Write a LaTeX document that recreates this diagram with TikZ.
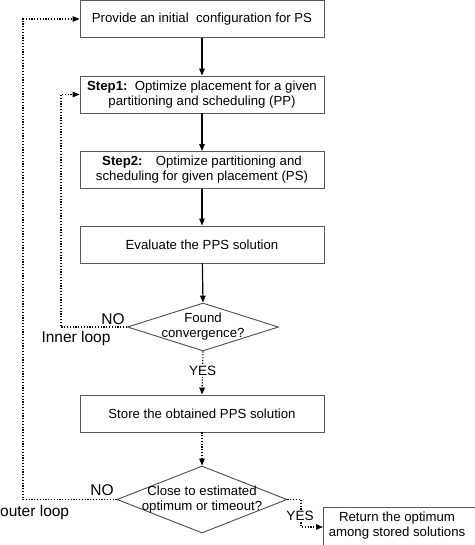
\documentclass[tikz,border=0pt]{standalone}
\usepackage{fontspec}
\setmainfont{Liberation Sans}
\usetikzlibrary{arrows.meta,shapes.geometric}
\begin{document}
\begin{tikzpicture}[x=1pt,y=-1pt,
  every node/.style={font=\fontsize{13.2}{15}\selectfont},
  boxst/.style={draw=black!65, line width=0.9pt, fill=white, minimum width=244pt, minimum height=37pt, inner sep=2pt, align=center},
  dia/.style={draw=black!70, line width=0.9pt, diamond, inner sep=0pt},
  txt/.style={inner sep=1pt, align=center},
  lbl/.style={inner sep=1pt, font=\fontsize{15.5}{17}\selectfont},
  solarr/.style={line width=1.2pt, -{Triangle[length=7pt,width=5.5pt]}},
  dotarr/.style={line width=1.2pt, dash pattern=on 1.2pt off 1.6pt, -{Triangle[length=7pt,width=5.5pt]}}]
\useasboundingbox (0,0) rectangle (474,545);
\node[boxst] (b1) at (202,19) {Provide an initial\ \ configuration for PS};
\node[boxst] (s1) at (202,94.5) {\textbf{Step1:}\ \ Optimize placement for a given\\partitioning and scheduling (PP)};
\node[boxst] (s2) at (202,170) {\textbf{Step2:}\quad Optimize partitioning and\\scheduling for given placement (PS)};
\node[boxst] (ev) at (202,244.5) {Evaluate the PPS solution};
\node[dia, minimum width=151pt, minimum height=48pt] (d1) at (203,327) {};
\node[txt] (d1t) at (203,327) {Found\\convergence?};
\node[boxst] (st) at (202,413.5) {Store the obtained PPS solution};
\node[dia, minimum width=170pt, minimum height=67pt] (d2) at (202,499.5) {};
\node[txt] (d2t) at (202,499.5) {Close to estimated\\optimum or timeout?};
\node[boxst, minimum width=170pt, minimum height=40pt, anchor=west] (ret) at (323,527) {};
\node[txt] (rett) at (397,525.5) {Return the optimum\\among stored solutions};
\coordinate (il) at (61,327);
\coordinate (ol) at (23,499.5);
\coordinate (yc) at (301,499.5);
% solid arrows
\draw[solarr] (b1) -- (s1);
\draw[solarr] (s1) -- (s2);
\draw[solarr] (s2) -- (ev);
\draw[solarr] (ev) -- (d1.north);
% dotted
\draw[dotarr] (d1.south) -- node[txt, fill=white, pos=0.45, font=\fontsize{13.5}{15}\selectfont] (yes1) {YES} (st.north);
\draw[dotarr] (st.south) -- (d2.north);
\draw[dotarr] (d1.west) -- (il) |- (s1.west);
\draw[dotarr] (d2.west) -- (ol) |- (b1.west);
\draw[dotarr] (d2.east) -- (yc) |- (ret.west);
\node[txt, fill=white, inner sep=0.5pt, font=\fontsize{13.5}{15}\selectfont] (yes2) at (300,516) {YES};
\node[lbl] (no1) at (113,319) {NO};
\node[lbl] (inl) at (76,338.5) {Inner loop};
\node[lbl] (no2) at (102,490) {NO};
\node[lbl, anchor=west] (outl) at (-1,512) {outer loop};
\end{tikzpicture}
\end{document}
